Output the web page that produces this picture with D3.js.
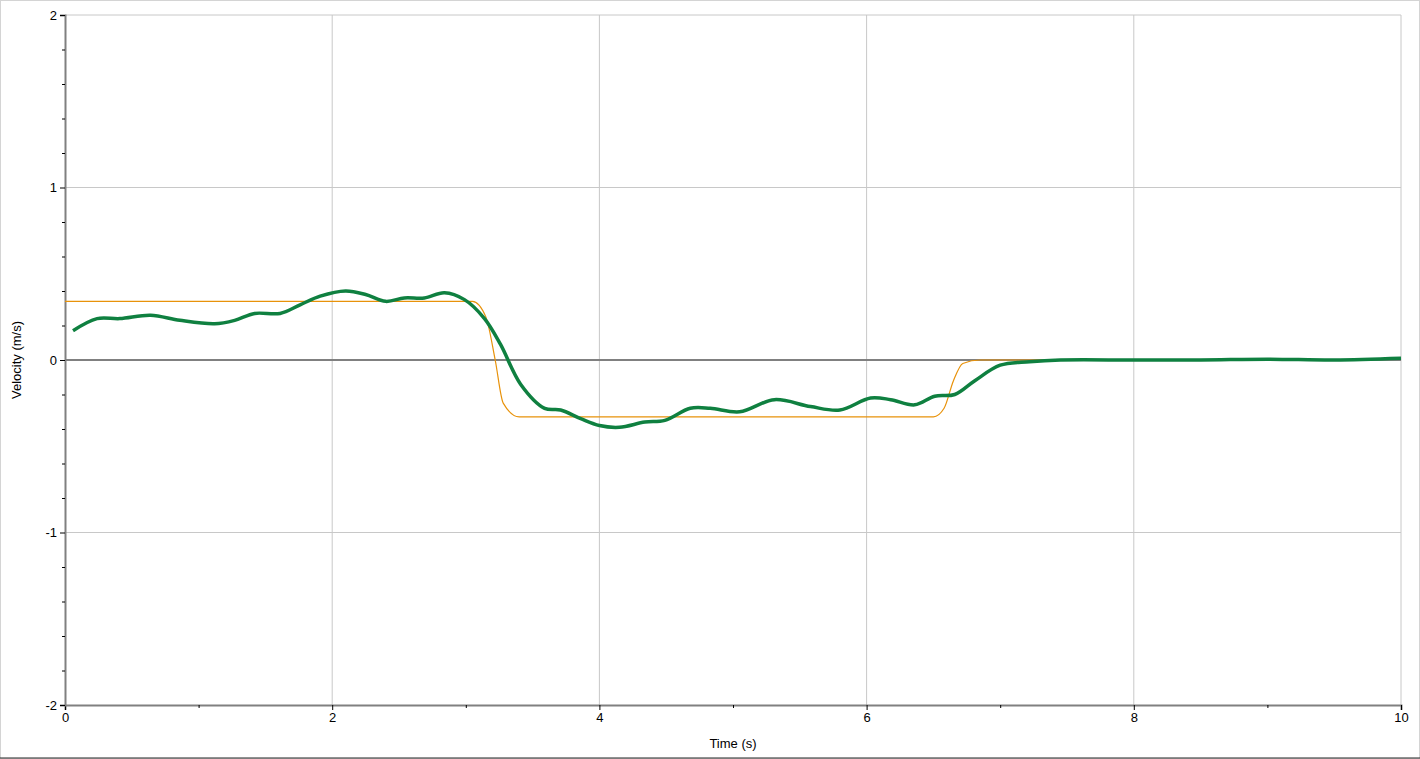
<!DOCTYPE html>
<html><head><meta charset="utf-8">
<script src="https://cdn.jsdelivr.net/npm/d3@7"></script>
<style>body{margin:0;background:#fff}</style>
</head><body>
<script>
const measuredT = [0.06,0.24,0.41,0.64,0.86,1.12,1.27,1.42,1.61,1.76,1.91,2.10,2.25,2.40,2.54,2.69,2.84,2.99,3.14,3.26,3.41,3.59,3.71,3.86,4.00,4.15,4.34,4.49,4.68,4.83,5.05,5.31,5.58,5.80,6.03,6.18,6.36,6.51,6.66,6.81,7.00,7.22,7.45,8.0,8.5,9.0,9.5,10.0];
const measuredV = [0.17,0.24,0.24,0.26,0.23,0.21,0.23,0.27,0.27,0.32,0.37,0.40,0.38,0.34,0.36,0.36,0.39,0.35,0.24,0.09,-0.14,-0.28,-0.29,-0.34,-0.38,-0.39,-0.36,-0.35,-0.28,-0.28,-0.30,-0.23,-0.27,-0.29,-0.22,-0.23,-0.26,-0.21,-0.20,-0.12,-0.03,-0.01,0.0,0.0,0.0,0.005,0.0,0.01];
const modelT = [0,3.05,3.15,3.22,3.28,3.4,6.5,6.58,6.65,6.72,6.85,7.5];
const modelV = [0.34,0.34,0.25,0.0,-0.25,-0.33,-0.33,-0.28,-0.12,-0.02,0,0];
const xTicks = [0,2,4,6,8,10];
const yTicks = [-2,-1,0,1,2];

const W = 1420, H = 759;
const svg = d3.select("body").append("svg").attr("width", W).attr("height", H);
svg.append("rect").attr("x",0.5).attr("y",0.5).attr("width",W-1).attr("height",H-1)
  .attr("fill","#fff").attr("stroke","#d4d4d4");
svg.append("line").attr("x1",0).attr("x2",W).attr("y1",H-1).attr("y2",H-1).attr("stroke","#222");

const x = d3.scaleLinear().domain([0,10]).range([65,1401]);
const y = d3.scaleLinear().domain([-2,2]).range([705,15]);

// grid
const g = svg.append("g");
g.selectAll("line.gx").data(xTicks.slice(1)).enter().append("line")
  .attr("x1",d=>x(d)).attr("x2",d=>x(d)).attr("y1",y(2)).attr("y2",y(-2))
  .attr("stroke","#c8c8c8");
g.selectAll("line.gy").data(yTicks.slice(1)).enter().append("line")
  .attr("x1",x(0)).attr("x2",x(10)).attr("y1",d=>y(d)).attr("y2",d=>y(d))
  .attr("stroke","#c8c8c8");
g.append("line").attr("x1",x(0)).attr("x2",x(10)).attr("y1",y(0)).attr("y2",y(0))
  .attr("stroke","#808080").attr("stroke-width",2);

const xAxis = svg.append("g").attr("transform",`translate(0,${y(-2)})`)
  .call(d3.axisBottom(x).tickValues(d3.range(0,10.01,1)).tickSize(5).tickFormat(d=>d%2===0?d:""));
const yAxis = svg.append("g").attr("transform",`translate(${x(0)},0)`)
  .call(d3.axisLeft(y).tickValues(d3.range(-2,2.01,0.2).map(v=>+v.toFixed(1))).tickSize(5)
    .tickFormat(d=>Number.isInteger(d)?d:""));
[xAxis,yAxis].forEach(a=>{
  a.selectAll("path.domain").attr("stroke","#808080").attr("stroke-width",2);
  a.selectAll(".tick line").attr("stroke","#000");
  a.selectAll("text").attr("font-family","Liberation Sans, Arial").attr("font-size",13).attr("fill","#000");
});
yAxis.selectAll(".tick").filter(d=>!Number.isInteger(d)).select("line").attr("x2",-3);
xAxis.selectAll(".tick").filter(d=>d%2!==0).select("line").attr("y2",3);

svg.append("text").attr("x",x(5)).attr("y",748).attr("text-anchor","middle")
  .attr("font-family","Liberation Sans, Arial").attr("font-size",13).text("Time (s)");
svg.append("text").attr("transform",`translate(21,${y(0)}) rotate(-90)`).attr("text-anchor","middle")
  .attr("font-family","Liberation Sans, Arial").attr("font-size",13).text("Velocity (m/s)");

const line = d3.line().curve(d3.curveMonotoneX).x(d=>x(d[0])).y(d=>y(d[1]));
svg.append("path").attr("d",line(modelT.map((t,i)=>[t,modelV[i]])))
  .attr("fill","none").attr("stroke","#e8920a").attr("stroke-width",1.2);
svg.append("path").attr("d",d3.line().curve(d3.curveCatmullRom).x(d=>x(d[0])).y(d=>y(d[1]))(measuredT.map((t,i)=>[t,measuredV[i]])))
  .attr("fill","none").attr("stroke","#0f8040").attr("stroke-width",3.5);
</script>
</body></html>
